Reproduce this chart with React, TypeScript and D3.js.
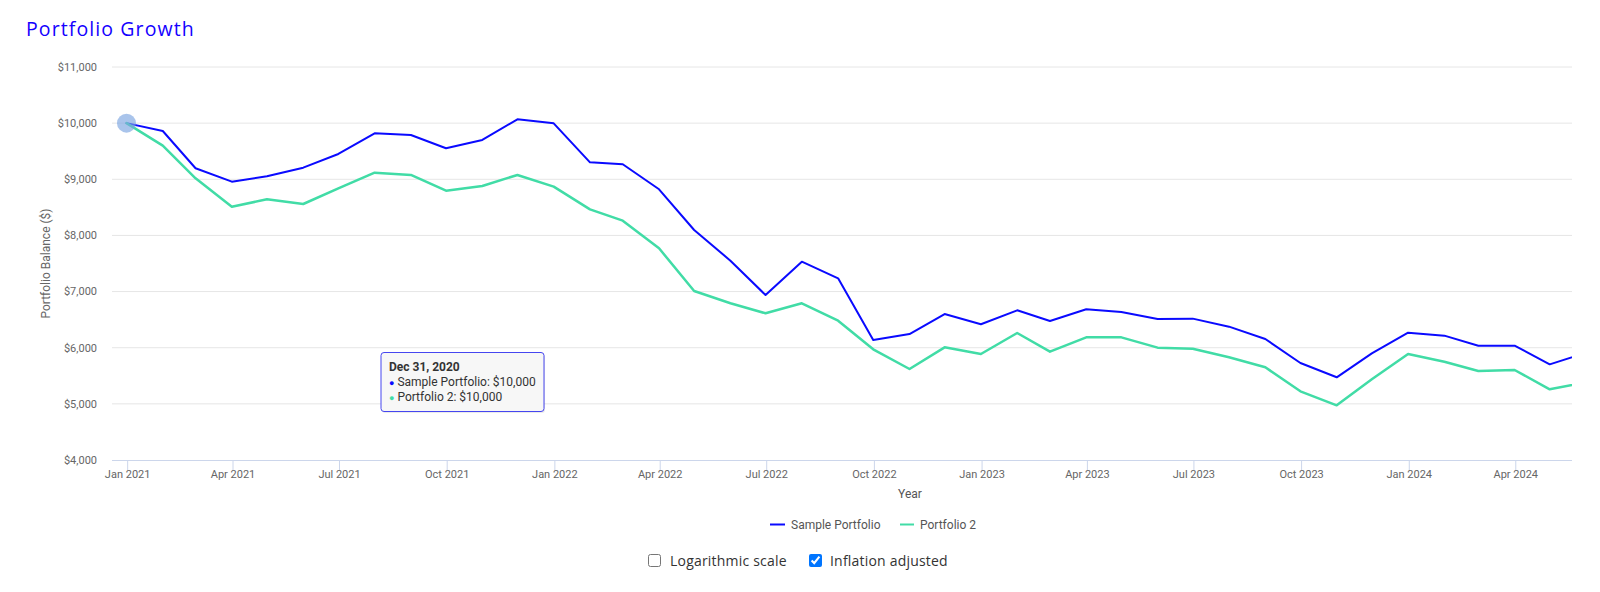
import React from "react";
import * as d3 from "d3";

// ---- data ----
const dates = [
  "2020-12-31", "2021-01-31", "2021-02-28", "2021-03-31", "2021-04-30", "2021-05-31",
  "2021-06-30", "2021-07-31", "2021-08-31", "2021-09-30", "2021-10-31", "2021-11-30",
  "2021-12-31", "2022-01-31", "2022-02-28", "2022-03-31", "2022-04-30", "2022-05-31",
  "2022-06-30", "2022-07-31", "2022-08-31", "2022-09-30", "2022-10-31", "2022-11-30",
  "2022-12-31", "2023-01-31", "2023-02-28", "2023-03-31", "2023-04-30", "2023-05-31",
  "2023-06-30", "2023-07-31", "2023-08-31", "2023-09-30", "2023-10-31", "2023-11-30",
  "2023-12-31", "2024-01-31", "2024-02-29", "2024-03-31", "2024-04-30", "2024-05-31",
];

const samplePortfolio = [
  10000, 9860, 9196, 8958, 9053, 9207, 9451, 9819, 9789, 9552, 9700, 10068,
  9997, 9302, 9267, 8822, 8097, 7550, 6939, 7532, 7236, 6137, 6244, 6600,
  6417, 6666, 6476, 6684, 6636, 6512, 6518, 6375, 6155, 5728, 5473, 5900,
  6268, 6215, 6036, 6036, 5704, 5909,
];

const portfolio2 = [
  10000, 9600, 9018, 8512, 8643, 8560, 8839, 9118, 9077, 8797, 8881, 9077,
  8869, 8465, 8263, 7771, 7010, 6791, 6613, 6791, 6481, 5972, 5621, 6007,
  5888, 6262, 5930, 6185, 6185, 6001, 5983, 5829, 5651, 5223, 4974, 5437,
  5888, 5751, 5585, 5603, 5259, 5386,
];

const yTicks = [4000, 5000, 6000, 7000, 8000, 9000, 10000, 11000];
const seriesNames = ["Sample Portfolio", "Portfolio 2"];
const tooltipDate = "Dec 31, 2020";
const tooltipValues = [10000, 10000];
const optionLabels = ["Logarithmic scale", "Inflation adjusted"];
const optionChecked = [false, true];

// ---- styles ----
const BLUE = "#0a0aff";
const GREEN = "#41dca6";
const FONT = "Roboto, 'Liberation Sans', Arial, sans-serif";
const TITLE_FONT = "'Open Sans', 'Noto Sans', sans-serif";

export default function App() {
  const W = 1600;
  const H = 592;
  const plotLeft = 112;
  const plotRight = 1572;
  const plotTop = 67;
  const plotBottom = 460;

  const parse = d3.timeParse("%Y-%m-%d");
  const ds = dates.map((s) => parse(s) as Date);

  const x = d3
    .scaleTime()
    .domain([ds[0], ds[ds.length - 1]])
    .range([126.5, 1586]);
  const y = d3.scaleLinear().domain([4000, 11000]).range([plotBottom, plotTop]);

  const xTicks = x.ticks(d3.timeMonth.every(3) as any).filter((t) => x(t) <= plotRight);
  const fmtTick = d3.timeFormat("%b %Y");
  const fmtMoney = d3.format("$,");

  const line = d3
    .line<number>()
    .x((_, i) => x(ds[i]))
    .y((d) => y(d));

  const series = [
    { name: seriesNames[0], values: samplePortfolio, color: BLUE, width: 2 },
    { name: seriesNames[1], values: portfolio2, color: GREEN, width: 2.5 },
  ];

  return (
    <div style={{ position: "absolute", left: 0, top: 0, width: W, height: H, background: "#fff", overflow: "hidden" }}>
      <svg width={W} height={H} style={{ position: "absolute", left: 0, top: 0 }}>
        <defs>
          <clipPath id="plotClip">
            <rect x={plotLeft} y={0} width={plotRight - plotLeft} height={H} />
          </clipPath>
        </defs>

        {/* title */}
        <text x={26} y={35.5} fontFamily={TITLE_FONT} fontSize={19.5} fill="#1400ff" letterSpacing={1.1}>
          Portfolio Growth
        </text>

        {/* grid */}
        {yTicks.map((t) =>
          t === 4000 ? null : (
            <line key={t} x1={plotLeft} x2={plotRight} y1={y(t)} y2={y(t)} stroke="#e6e6e6" strokeWidth={1} />
          )
        )}
        {/* y labels */}
        {yTicks.map((t) => (
          <text key={"yl" + t} x={97} y={y(t)} dy="0.35em" textAnchor="end" fontFamily={FONT} fontSize={11} fill="#666">
            {fmtMoney(t)}
          </text>
        ))}
        <text
          transform={`translate(46,${(plotTop + plotBottom) / 2}) rotate(-90)`}
          textAnchor="middle"
          dy="0.35em"
          fontFamily={FONT}
          fontSize={12}
          fill="#666"
        >
          Portfolio Balance ($)
        </text>

        {/* x axis */}
        <line x1={plotLeft} x2={plotRight} y1={plotBottom + 0.5} y2={plotBottom + 0.5} stroke="#ccd6eb" strokeWidth={1} />
        {xTicks.map((t) => (
          <g key={+t}>
            <line x1={x(t)} x2={x(t)} y1={plotBottom} y2={plotBottom + 10} stroke="#ccd6eb" strokeWidth={1} />
            <text x={x(t)} y={478} textAnchor="middle" fontFamily={FONT} fontSize={11} fill="#666">
              {fmtTick(t)}
            </text>
          </g>
        ))}
        <text x={910} y={498} textAnchor="middle" fontFamily={FONT} fontSize={12} fill="#555">
          Year
        </text>

        {/* lines */}
        <g clipPath="url(#plotClip)">
          {series.map((s) => (
            <path key={s.name} d={line(s.values) || ""} fill="none" stroke={s.color} strokeWidth={s.width} strokeLinejoin="round" strokeLinecap="round" />
          ))}
        </g>

        {/* hover halo */}
        <circle cx={x(ds[0])} cy={y(samplePortfolio[0])} r={9.5} fill="#7ba4e0" opacity={0.65} />

        {/* tooltip */}
        <g>
          <rect x={382} y={354} width={163} height={59} rx={3} fill="rgba(0,0,0,0.08)" />
          <rect x={381} y={352.5} width={163} height={59} rx={3} fill="#f7f7f7" stroke="#4646f0" strokeWidth={1} />
          <text x={389} y={371} fontFamily={FONT} fontSize={12} fontWeight="bold" fill="#333">
            {tooltipDate}
          </text>
          {series.map((s, i) => (
            <text key={s.name} x={389} y={386 + i * 15} fontFamily={FONT} fontSize={12} fill="#333">
              <tspan fill={s.color} fontSize={9}>●</tspan>
              <tspan> {s.name}: {fmtMoney(tooltipValues[i])}</tspan>
            </text>
          ))}
        </g>

        {/* legend */}
        <line x1={770} x2={785} y1={524.5} y2={524.5} stroke={BLUE} strokeWidth={2} />
        <text x={791} y={528.5} fontFamily={FONT} fontSize={12} fill="#555">
          {seriesNames[0]}
        </text>
        <line x1={900} x2={914} y1={524.5} y2={524.5} stroke={GREEN} strokeWidth={2} />
        <text x={920} y={528.5} fontFamily={FONT} fontSize={12} fill="#555">
          {seriesNames[1]}
        </text>

        {/* option labels */}
        <text x={670} y={565.5} fontFamily={TITLE_FONT} fontSize={14} fill="#333" letterSpacing={0.2}>
          {optionLabels[0]}
        </text>
        <text x={830} y={565.5} fontFamily={TITLE_FONT} fontSize={14} fill="#333" letterSpacing={0.2}>
          {optionLabels[1]}
        </text>
      </svg>
      <input
        type="checkbox"
        readOnly
        checked={optionChecked[0]}
        style={{ position: "absolute", left: 648, top: 554, width: 13, height: 13, margin: 0 }}
      />
      <input
        type="checkbox"
        readOnly
        checked={optionChecked[1]}
        style={{ position: "absolute", left: 809, top: 554, width: 13, height: 13, margin: 0 }}
      />
    </div>
  );
}
